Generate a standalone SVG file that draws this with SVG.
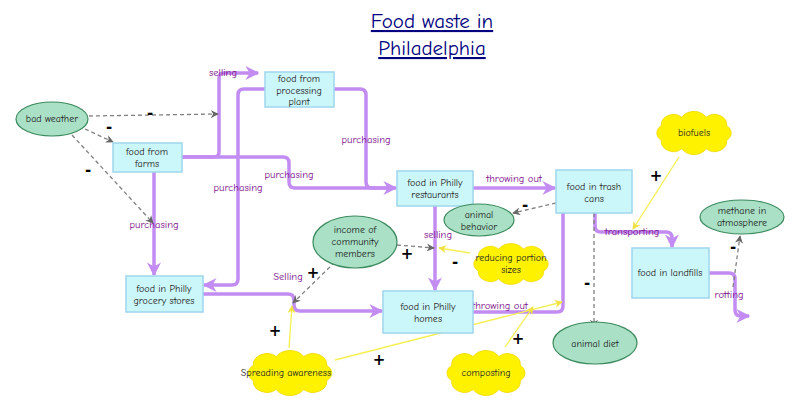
<svg xmlns="http://www.w3.org/2000/svg" width="800" height="405" viewBox="0 0 800 405">
<style>
text{font-family:"Comic Neue","DejaVu Sans",sans-serif;font-size:10px;fill:#222;text-anchor:middle}
.box{fill:#ccf7fa;stroke:#9fd6ee;stroke-width:1.5}
.ell{fill:#a9e0c6;stroke:#3d8a5e;stroke-width:1.2}
.cloud{fill:#fff200;stroke:#f0d800;stroke-width:1}
.flow{fill:none;stroke:#c28cf2;stroke-width:3.5}
.lbl{fill:#7a0a8a;font-size:10.5px}
.dash{fill:none;stroke:#808080;stroke-width:1.3;stroke-dasharray:4,3}
.yl{fill:none;stroke:#f5f050;stroke-width:1.3}
.sign{font-family:"DejaVu Sans",sans-serif;font-size:15px;font-weight:bold;fill:#000}
.title{font-size:21px;fill:#000080;text-decoration:underline}
</style>
<defs>
<marker id="fa" viewBox="0 0 10 10" refX="9" refY="5" markerWidth="4" markerHeight="4" orient="auto" markerUnits="strokeWidth"><path d="M0,0 L10,5 L0,10 L3,5 z" fill="#c28cf2"/></marker>
<marker id="da" viewBox="0 0 10 10" refX="9" refY="5" markerWidth="8" markerHeight="8" orient="auto" markerUnits="userSpaceOnUse"><path d="M0,0 L10,5 L0,10 L3,5 z" fill="#666"/></marker>
<marker id="ya" viewBox="0 0 10 10" refX="9" refY="5" markerWidth="8" markerHeight="8" orient="auto" markerUnits="userSpaceOnUse"><path d="M0,0 L10,5 L0,10 L3,5 z" fill="#f0e040"/></marker>
<path id="cl" d="M-40,10 a12,12 0 0 1 0,-20 a15,15 0 0 1 25,-12 a18,18 0 0 1 30,0 a15,15 0 0 1 25,12 a12,12 0 0 1 0,20 a15,15 0 0 1 -25,12 a18,18 0 0 1 -30,0 a15,15 0 0 1 -25,-12 z"/>
</defs>
<rect width="800" height="405" fill="#fff"/>
<text class="title" x="432" y="28">Food waste in</text>
<text class="title" x="432" y="55">Philadelphia </text>

<g id="connectors">
<path class="flow" marker-end="url(#fa)" d="M182 157 H214 Q219 157 219 152 V78 Q219 73 224 73 H258"/>
<path class="flow" marker-end="url(#fa)" d="M182 157 H283 Q289 157 289 163 V182 Q289 188 295 188 H396"/>
<path class="flow" d="M334 89 H360 Q366 89 366 95 V182 Q366 188 372 188 H390"/>
<path class="flow" marker-end="url(#fa)" d="M265 89 H244 Q238 89 238 95 V279 Q238 285 232 285 H204"/>
<path class="flow" marker-end="url(#fa)" d="M154 172 V275"/>
<path class="flow" marker-end="url(#fa)" d="M203 294 H288 Q294 294 294 300 V305 Q294 311 300 311 H382"/>
<path class="flow" marker-end="url(#fa)" d="M435 206 V290"/>
<path class="flow" marker-end="url(#fa)" d="M473 188 H555"/>
<path class="flow" d="M473 312 H557 Q563 312 563 306 V213"/>
<path class="flow" marker-end="url(#fa)" d="M595 213 V226 Q595 232 601 232 H666 Q672 232 672 238 V247"/>
<path class="flow" marker-end="url(#fa)" d="M709 273 H729 Q735 273 735 279 V310 Q735 316 741 316 H749"/>
<text class="lbl" x="223" y="76">selling</text>
<text class="lbl" x="289" y="178">purchasing</text>
<text class="lbl" x="366" y="143">purchasing</text>
<text class="lbl" x="238" y="191">purchasing</text>
<text class="lbl" x="154" y="228">purchasing</text>
<text class="lbl" x="288" y="280">Selling</text>
<text class="lbl" x="438" y="238">selling</text>
<text class="lbl" x="514" y="182">throwing out</text>
<text class="lbl" x="500" y="309">throwing out</text>
<text class="lbl" x="632" y="235">transporting</text>
<text class="lbl" x="729" y="298">rotting</text>

<path class="dash" marker-end="url(#da)" d="M89 116 L218 114"/>
<path class="dash" marker-end="url(#da)" d="M85 129 L113 142"/>
<path class="dash" marker-end="url(#da)" d="M72 135 L153 223"/>
<path class="dash" marker-end="url(#da)" d="M556 203 L513 213"/>
<path class="dash" marker-end="url(#da)" d="M594 213 L594 327"/>
<path class="dash" marker-end="url(#da)" d="M397 245 L434 248"/>
<path class="dash" marker-end="url(#da)" d="M335 262 L293 303"/>
<path class="dash" marker-end="url(#da)" d="M733 287 L740 236"/>
<path class="yl" marker-end="url(#ya)" d="M679 157 L633 229"/>
<path class="yl" marker-end="url(#ya)" d="M470 253 L439 248"/>
<path class="yl" marker-end="url(#ya)" d="M289 348 L292 306"/>
<path class="yl" marker-end="url(#ya)" d="M335 360 L562 302"/>
<path class="yl" marker-end="url(#ya)" d="M505 347 L533 307"/>
<text class="sign" x="150" y="118">-</text>
<text class="sign" x="109" y="132">-</text>
<text class="sign" x="88" y="175">-</text>
<text class="sign" x="525" y="210">-</text>
<text class="sign" x="587" y="288">-</text>
<text class="sign" x="407" y="259">+</text>
<text class="sign" x="313" y="278">+</text>
<text class="sign" x="733" y="252">-</text>
<text class="sign" x="656" y="181">+</text>
<text class="sign" x="455" y="267">-</text>
<text class="sign" x="275" y="336">+</text>
<text class="sign" x="379" y="365">+</text>
<text class="sign" x="518" y="344">+</text>
</g>

<g id="bad-weather"><ellipse class="ell" cx="52" cy="119" rx="36" ry="17"/><text x="52" y="122">bad weather</text></g>
<g id="food-from-farms"><rect class="box" x="113" y="143" width="69" height="29"/><text x="147" y="155">food from</text><text x="147" y="167">farms</text></g>
<g id="processing-plant"><rect class="box" x="265" y="72" width="69" height="35"/><text x="299" y="82">food from</text><text x="299" y="94">processing</text><text x="299" y="105">plant</text></g>
<g id="restaurants"><rect class="box" x="397" y="171" width="76" height="35"/><text x="435" y="186">food in Philly</text><text x="435" y="198">restaurants</text></g>
<g id="trash-cans"><rect class="box" x="556" y="170" width="76" height="43"/><text x="594" y="190">food in trash</text><text x="594" y="202">cans</text></g>
<g id="grocery"><rect class="box" x="126" y="276" width="77" height="36"/><text x="164" y="292">food in Philly</text><text x="164" y="304">grocery stores</text></g>
<g id="homes"><rect class="box" x="383" y="291" width="90" height="42"/><text x="428" y="310">food in Philly</text><text x="428" y="322">homes</text></g>
<g id="landfills"><rect class="box" x="632" y="248" width="77" height="50"/><text x="670" y="276">food in landfills</text></g>
<g id="animal-behavior"><ellipse class="ell" cx="479" cy="220" rx="35" ry="16"/><text x="479" y="218">animal</text><text x="479" y="230">behavior</text></g>
<g id="income"><ellipse class="ell" cx="355" cy="242" rx="42" ry="26"/><text x="355" y="233">income of</text><text x="355" y="245">community</text><text x="355" y="257">members</text></g>
<g id="methane"><ellipse class="ell" cx="742" cy="217" rx="42" ry="17"/><text x="742" y="214">methane in</text><text x="742" y="226">atmosphere</text></g>
<g id="animal-diet"><ellipse class="ell" cx="595" cy="343" rx="42" ry="21"/><text x="595" y="347">animal diet</text></g>
<g id="biofuels"><use href="#cl" class="cloud" transform="translate(694,133) scale(0.82,0.72)"/><text x="694" y="136">biofuels</text></g>
<g id="reducing"><use href="#cl" class="cloud" transform="translate(511,264) scale(0.82,0.68)"/><text x="511" y="261">reducing portion</text><text x="511" y="273">sizes</text></g>
<g id="spreading"><use href="#cl" class="cloud" transform="translate(290,373) scale(0.92,0.75)"/><text x="286" y="376">Spreading awareness</text></g>
<g id="composting"><use href="#cl" class="cloud" transform="translate(486,373) scale(0.86,0.75)"/><text x="486" y="376">composting</text></g>
</svg>
